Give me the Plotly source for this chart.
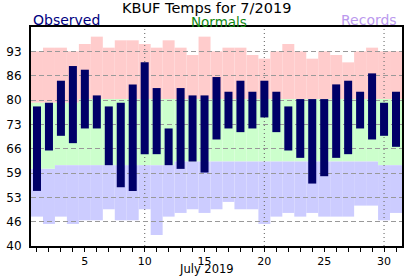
import plotly.graph_objects as go

# July 2019 at Buffalo (KBUF), daily values in deg F
days = list(range(1, 32))
obs_high = [78, 79, 85, 89, 88, 81, 78, 79, 84, 90, 83, 72, 83, 81, 81, 86,
            82, 85, 82, 85, 82, 78, 80, 80, 80, 84, 85, 82, 87, 79, 82]
obs_low = [55, 66, 70, 68, 72, 72, 62, 56, 55, 65, 65, 62, 61, 63, 60, 69,
           72, 71, 72, 75, 71, 66, 64, 57, 59, 64, 65, 72, 69, 70, 67]
norm_high = [79, 79, 79, 79, 80, 80, 80, 80, 80, 80, 80, 80, 80, 80, 80, 80,
             80, 80, 80, 80, 80, 80, 80, 80, 80, 80, 80, 80, 80, 80, 80]
norm_low = [61, 61, 62, 62, 62, 62, 62, 62, 62, 62, 62, 62, 63, 63, 63, 63,
            63, 63, 63, 63, 63, 63, 63, 63, 63, 63, 63, 63, 63, 62, 62]
rec_high = [93, 94, 94, 93, 95, 97, 94, 96, 96, 95, 94, 96, 94, 92, 97, 93,
            94, 94, 92, 91, 93, 95, 93, 91, 93, 92, 90, 93, 94, 93, 93]
rec_low = [48, 46, 48, 46, 47, 47, 50, 47, 47, 50, 43, 48, 49, 50, 49, 50,
           52, 50, 50, 46, 48, 49, 48, 49, 48, 48, 48, 51, 51, 47, 49]

y_ticks = [40, 46.625, 53.25, 59.875, 66.5, 73.125, 79.75, 86.375, 93]
y_labels = ["40", "46", "53", "59", "66", "73", "80", "86", "93"]
y_range = [40, 99.625]
x_labels = [str(d) if d % 5 == 0 else "" for d in days]
dotted_days = [10, 20, 30]

fig = go.Figure()

# record / normal bands, one step per day, kept under the gridlines
bands = []
for d, rh, nh, nl, rl in zip(days, rec_high, norm_high, norm_low, rec_low):
    for lo, hi, col in [(nh, rh, "#ffcccc"), (nl, nh, "#ccffcc"), (rl, nl, "#ccccff")]:
        bands.append(dict(type="rect", xref="x", yref="y", x0=d - 0.5, x1=d + 0.5,
                          y0=lo, y1=hi, fillcolor=col, line_width=0, layer="below"))
for d in dotted_days:
    bands.append(dict(type="line", xref="x", yref="y", x0=d, x1=d,
                      y0=y_range[0], y1=y_range[1], layer="below",
                      line=dict(color="#777777", width=1.2, dash="1px,3px")))

fig.add_trace(go.Bar(
    x=days,
    y=[h - l for h, l in zip(obs_high, obs_low)],
    base=obs_low,
    width=0.67,
    marker=dict(color="#000068", line_width=0),
    hoverinfo="skip",
))

txt = [
    dict(text="KBUF Temps for 7/2019", x=0.474, y=1.087, xanchor="center",
         font=dict(size=14.5, color="black")),
    dict(text="Observed", x=0.0, y=1.033, xanchor="left",
         font=dict(size=14, color="#000080")),
    dict(text="Normals", x=0.507, y=1.024, xanchor="center",
         font=dict(size=13.5, color="#138a13")),
    dict(text="Records", x=0.992, y=1.033, xanchor="right",
         font=dict(size=14, color="#bb99ee")),
    dict(text="July 2019", x=0.472, y=-0.103, xanchor="center",
         font=dict(size=11.5, color="black")),
]
annotations = [dict(a, xref="paper", yref="paper", yanchor="middle", showarrow=False) for a in txt]

fig.update_layout(
    width=412, height=276,
    margin=dict(l=31, r=10, t=27, b=30, autoexpand=False),
    plot_bgcolor="white", paper_bgcolor="white",
    font=dict(family="DejaVu Sans", size=12, color="black"),
    showlegend=False,
    shapes=bands,
    annotations=annotations,
)
fig.update_xaxes(
    range=[0.5, 31.5], tickmode="array", tickvals=days, ticktext=x_labels,
    ticks="outside", ticklen=4, tickwidth=1, tickcolor="black",
    tickfont=dict(size=11), ticklabelstandoff=0,
    showline=True, linecolor="black", linewidth=2, mirror=True,
    showgrid=False, zeroline=False, automargin=False,
)
fig.update_yaxes(
    range=y_range, tickmode="array", tickvals=y_ticks, ticktext=y_labels,
    ticks="", ticklabelstandoff=5,
    showline=True, linecolor="black", linewidth=2, mirror=True,
    showgrid=True, gridcolor="#999999", gridwidth=1, griddash="5px,3px",
    zeroline=False, automargin=False,
)

# page body margin would push the figure off the 412x276 window
fig.write_html("out.html", config={"displayModeBar": False},
               post_script="document.body.style.margin = '0';")
